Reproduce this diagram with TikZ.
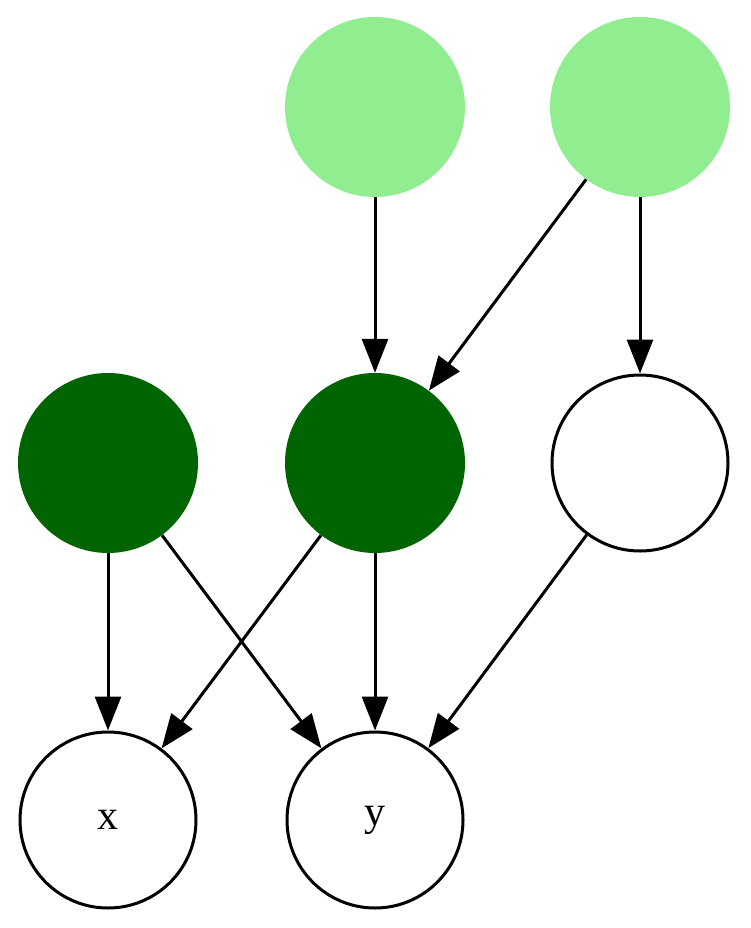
\documentclass[tikz,border=0pt]{standalone}
\usepackage{fontspec}
\setmainfont{Liberation Serif}
\usetikzlibrary{arrows.meta}
\definecolor{lg}{HTML}{90EE90}
\definecolor{dg}{HTML}{006400}
\begin{document}
\begin{tikzpicture}[x=1pt,y=-1pt,
  nd/.style={circle,minimum size=180pt,inner sep=0pt,font=\fontsize{42}{42}\selectfont},
  light/.style={nd,fill=lg},
  dark/.style={nd,fill=dg},
  white/.style={nd,draw=black,line width=3pt,minimum size=176pt},
  arr/.style={-{Triangle[length=34pt,width=26pt]},line width=3pt}]
\useasboundingbox (0,0) rectangle (750,928);
\node[light] (a) at (375,107) {};
\node[light] (b) at (640,107) {};
\node[dark] (c) at (108,463) {};
\node[dark] (d) at (375,463) {};
\node[white] (e) at (640,463) {};
\node[white] (x) at (108,820) {x};
\node[white] (y) at (375,820) {y};
\draw[arr] (a) -- (d);
\draw[arr] (b) -- (d);
\draw[arr] (b) -- (e);
\draw[arr] (c) -- (x);
\draw[arr] (c) -- (y);
\draw[arr] (d) -- (x);
\draw[arr] (d) -- (y);
\draw[arr] (e) -- (y);
\end{tikzpicture}
\end{document}
